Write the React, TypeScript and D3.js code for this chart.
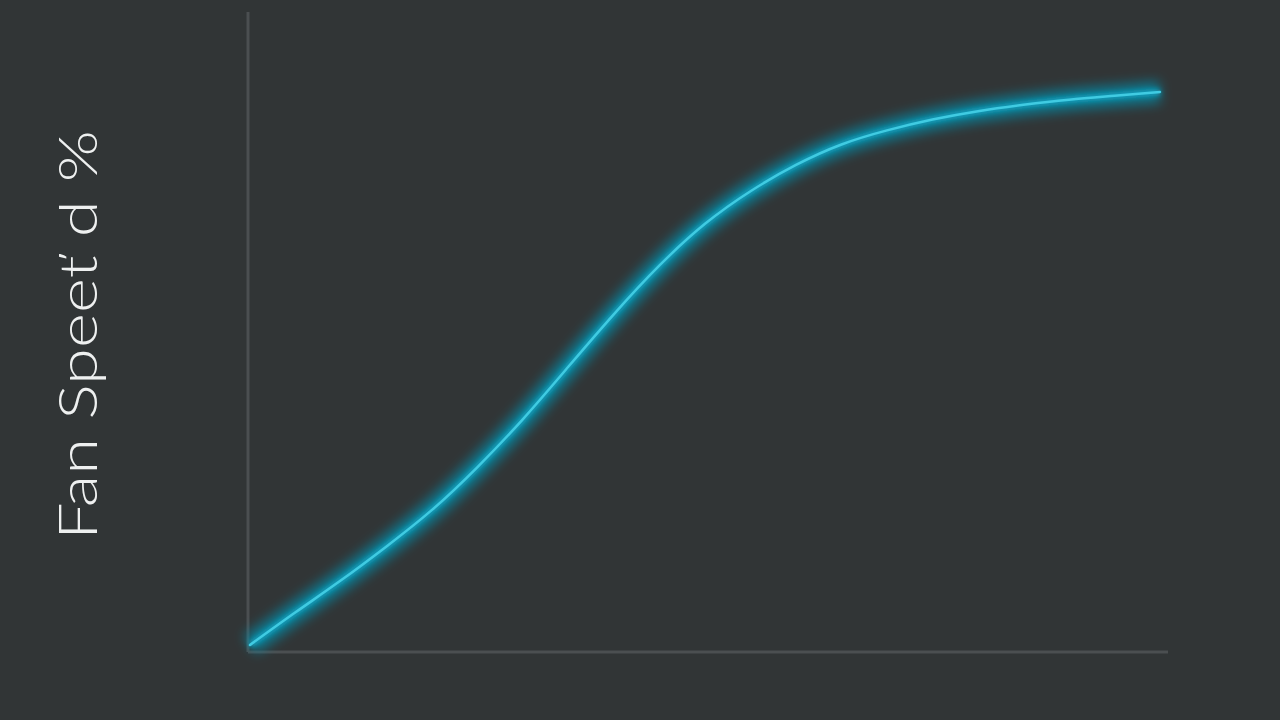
import { curveNatural, line, scaleLinear } from "d3";

const WIDTH = 1280;
const HEIGHT = 720;
const MARGIN = { top: 12, right: 120, bottom: 68, left: 250 };

const Y_LABEL = "Fan Speeť d %";

// temperature steps (x) and fan speed % (y)
const temps = [0, 5, 10, 15, 20, 25, 30, 35, 40, 45, 50, 55, 60, 65, 70, 75, 80, 85, 90, 95, 100];
const fanSpeed = [
  1.1, 6.2, 11.2, 16.5, 22.2, 28.9, 36.4, 44.6, 52.8, 60.4, 66.9, 72.0, 76.1, 79.3, 81.5, 83.2,
  84.5, 85.5, 86.3, 86.9, 87.5,
];

export default function App() {
  const xScale = scaleLinear()
    .domain([0, 100])
    .range([MARGIN.left, 1160]);
  const yScale = scaleLinear()
    .domain([0, 100])
    .range([HEIGHT - MARGIN.bottom, MARGIN.top]);

  const points = temps.map((t, i) => ({ t, v: fanSpeed[i] }));
  const path =
    line<{ t: number; v: number }>()
      .x((d) => xScale(d.t))
      .y((d) => yScale(d.v))
      .curve(curveNatural)(points) ?? "";

  const x0 = xScale(0) - 2;
  const y0 = yScale(0);

  return (
    <svg
      width={WIDTH}
      height={HEIGHT}
      viewBox={`0 0 ${WIDTH} ${HEIGHT}`}
      style={{ position: "absolute", left: 0, top: 0, background: "#313536" }}
    >
      <defs>
        <filter id="glow" x="-10%" y="-10%" width="120%" height="120%">
          <feGaussianBlur stdDeviation={6} />
        </filter>
        <filter id="glowSoft" x="-10%" y="-10%" width="120%" height="120%">
          <feGaussianBlur stdDeviation={2.5} />
        </filter>
      </defs>
      <rect width={WIDTH} height={HEIGHT} fill="#313536" />

      {/* axes */}
      <line x1={x0} x2={x0} y1={yScale(100)} y2={y0} stroke="#4b4f51" strokeWidth={3} />
      <line x1={x0} x2={1168} y1={y0} y2={y0} stroke="#4b4f51" strokeWidth={3} />

      {/* glowing curve */}
      <path d={path} fill="none" stroke="#0890ae" strokeWidth={22} strokeOpacity={0.7} filter="url(#glow)" />
      <path d={path} fill="none" stroke="#12a6c4" strokeWidth={7} strokeOpacity={0.85} filter="url(#glowSoft)" />
      <path d={path} fill="none" stroke="#40cbe2" strokeWidth={2.5} strokeLinecap="round" />

      <text
        transform={`translate(97, 335) rotate(-90)`}
        textAnchor="middle"
        fill="#eef0f0"
        fontFamily="Lato, 'Open Sans', sans-serif"
        fontWeight={300}
        fontSize={54}
        textLength={410}
        lengthAdjust="spacingAndGlyphs"
      >
        {Y_LABEL}
      </text>
    </svg>
  );
}
